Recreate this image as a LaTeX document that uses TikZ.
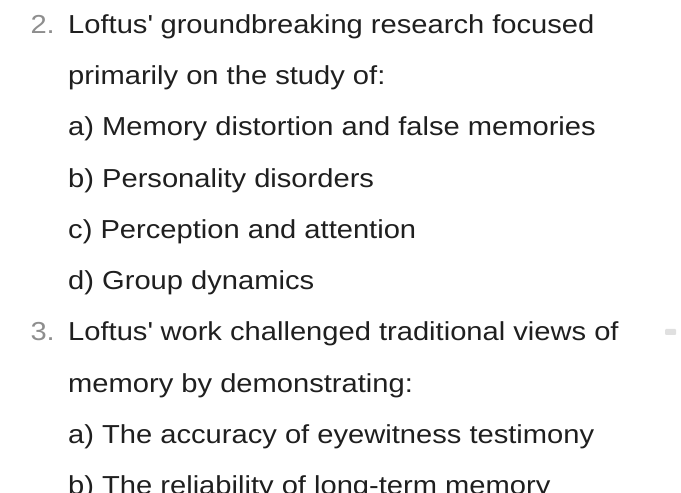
\documentclass[tikz,border=0pt]{standalone}
\usepackage{fontspec}
\setmainfont[FakeStretch=1.12]{Liberation Sans}
\definecolor{numgray}{HTML}{8E8E8E}
\definecolor{txt}{HTML}{1F1F1F}
\newcommand{\ap}{\textquotesingle}
\begin{document}
\begin{tikzpicture}[x=1pt,y=1pt,
  line/.style={anchor=base west,inner sep=0pt,font=\fontsize{26}{30}\selectfont,text=txt},
  num/.style={anchor=base east,inner sep=0pt,font=\fontsize{26}{30}\selectfont,text=numgray}]
\useasboundingbox[fill=white] (0,0) rectangle (681,493);
\clip (0,0) rectangle (681,493);
\node[num] (n2) at (55,493-34) {2.};
\node[line] (l1) at (68,493-34) {Loftus\ap{} groundbreaking research focused};
\node[line] (l2) at (68,493-85) {primarily on the study of:};
\node[line] (l3) at (68,493-136) {a) Memory distortion and false memories};
\node[line] (l4) at (68,493-188) {b) Personality disorders};
\node[line] (l5) at (68,493-239) {c) Perception and attention};
\node[line] (l6) at (68,493-290) {d) Group dynamics};
\node[num] (n3) at (55,493-341) {3.};
\node[line] (l7) at (68,493-341) {Loftus\ap{} work challenged traditional views of};
\node[line] (l8) at (68,493-393) {memory by demonstrating:};
\node[line] (l9) at (68,493-444) {a) The accuracy of eyewitness testimony};
\node[line] (l10) at (68,493-495) {b) The reliability of long-term memory};
\fill[black!12,rounded corners=1pt] (665,493-335) rectangle (676,493-329);
\end{tikzpicture}
\end{document}
